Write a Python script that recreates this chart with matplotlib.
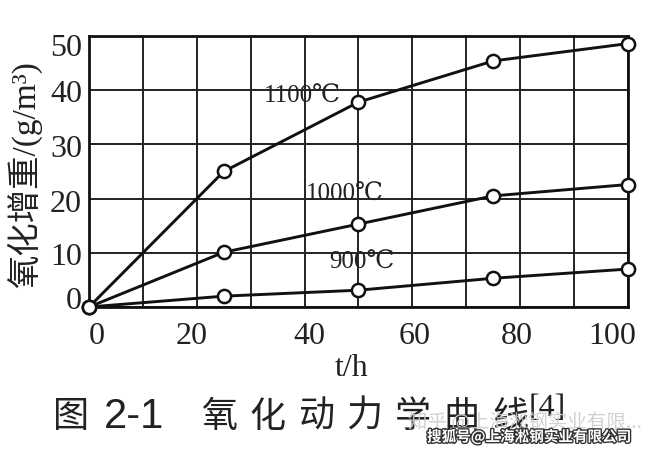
import matplotlib
matplotlib.use("Agg")
import matplotlib.pyplot as plt
import matplotlib.patheffects as pe
from matplotlib.ticker import MultipleLocator
from matplotlib.transforms import ScaledTranslation

plt.rcParams['font.family'] = ['Liberation Serif', 'DejaVu Serif', 'Noto Sans CJK SC']

# Data (t in hours, oxidation weight gain in g/m^3)
t = [0, 25, 50, 75, 100]
gain_1100 = [0, 25.0, 37.8, 45.4, 48.6]
gain_1000 = [0, 10.1, 15.3, 20.5, 22.6]
gain_900 = [0, 2.0, 3.1, 5.3, 7.0]
series_labels = ["1100℃", "1000℃", "900℃"]
x_ticks = [0, 20, 40, 60, 80, 100]
y_ticks = [0, 10, 20, 30, 40, 50]

fig = plt.figure(figsize=(6.53, 4.54), dpi=100)
ax = fig.add_axes([0.1363, 0.3238, 0.8254, 0.5969])

for ys in (gain_1100, gain_1000, gain_900):
    ax.plot(t, ys, color='#111111', lw=2.1, marker='o', ms=9.5,
            mfc='white', mec='#111111', mew=1.8, zorder=3, clip_on=False)

ax.set_xlim(0, 100)
ax.set_ylim(0, 50)
ax.set_xticks(x_ticks)
ax.set_yticks(y_ticks)
ax.xaxis.set_minor_locator(MultipleLocator(10))
ax.grid(True, which='both', color='#222222', lw=1.4)
ax.set_axisbelow(True)
ax.tick_params(which='both', length=0, labelsize=23, colors='#222222')
ax.tick_params(axis='x', pad=11)
ax.tick_params(axis='y', pad=5)
for s in ax.spines.values():
    s.set_linewidth(2.0)
    s.set_color('#111111')

# small per-label shifts as in the scanned figure (pixels)
x_off = [8, -5, 5, 2, -3, -16]
for lab, dx in zip(ax.get_xticklabels(), x_off):
    lab.set_transform(lab.get_transform() + ScaledTranslation(dx / 100, 0, fig.dpi_scale_trans))
y_off = [9, -1, -2, -2, -1, -9]
for lab, dy in zip(ax.get_yticklabels(), y_off):
    lab.set_transform(lab.get_transform() + ScaledTranslation(0, dy / 100, fig.dpi_scale_trans))

ax.set_xlabel("t/h", fontsize=23, color='#222222')
ax.xaxis.set_label_coords(0.488, -0.175)
fig.text(0.038, 0.6145, "氧化增重/(g/m³)", rotation=90, fontsize=24,
         ha='center', va='center',
         family=['Liberation Serif', 'Noto Sans CJK SC', 'DejaVu Sans'],
         color='#222222')

# curve labels
lab_kw = dict(fontsize=18, ha='center', va='center', color='#222222')
ax.text(39.6, 38.7, series_labels[0], **lab_kw)
ax.text(47.5, 20.7, series_labels[1], **lab_kw)
ax.text(50.6, 8.1, series_labels[2], **lab_kw)

# caption
cap_font = ['Noto Sans CJK SC', 'DejaVu Sans']
W, H = 653.0, 454.0
cy = 1 - 417 / H
fig.text(53 / W, cy, "图", fontsize=26, ha='left', va='center', family=cap_font, color='#222222')
fig.text(104 / W, cy, "2-1", fontsize=30, ha='left', va='center',
         family=['Liberation Sans', 'DejaVu Sans'], color='#222222')
chars = "氧化动力学曲线"
for i, ch in enumerate(chars):
    fig.text((201 + i * 48.5) / W, cy, ch, fontsize=26, ha='left', va='center',
             family=cap_font, color='#222222')
fig.text(529 / W, 1 - 409 / H, "[4]", fontsize=23, ha='left', va='center', color='#222222')

# watermarks
fig.text(408 / W, 1 - 423 / H, "知乎 @上海淞钢实业有限...", fontsize=14, ha='left', va='center',
         family=cap_font, color='#cccccc', alpha=0.9)
fig.text(427 / W, 1 - 437 / H, "搜狐号@上海淞钢实业有限公司", fontsize=10.5, ha='left', va='center',
         family=cap_font, color='white', fontweight='bold',
         path_effects=[pe.withStroke(linewidth=2, foreground='#333333')])

fig.savefig("out.png", dpi=100)
